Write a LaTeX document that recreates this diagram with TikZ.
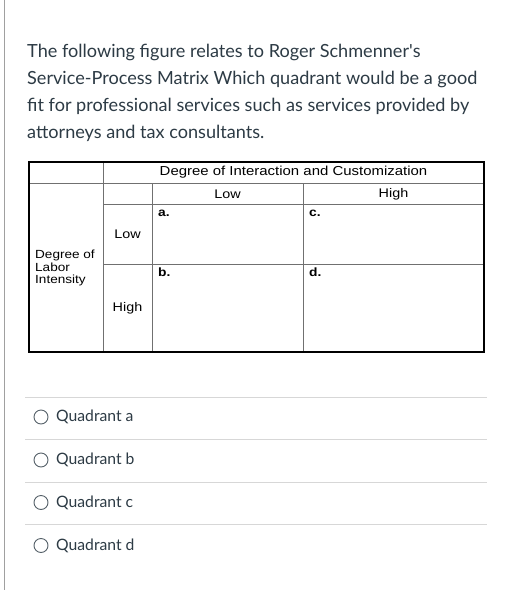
\documentclass[tikz,border=0pt]{standalone}
\usepackage{fontspec}
\setmainfont{Lato}
\newfontfamily\arialf[FakeStretch=1.15]{Liberation Sans}
\definecolor{txt}{HTML}{2D3B45}
\definecolor{sep}{HTML}{D7D7D7}
\definecolor{edge}{HTML}{A0A0A0}
\definecolor{grid}{HTML}{707070}
\begin{document}
\begin{tikzpicture}[x=1pt,y=-1pt,
  qline/.style={anchor=base west,inner sep=0pt,text=txt,font=\fontsize{18.1}{20}\selectfont},
  tbl/.style={inner sep=0pt,font=\arialf\fontsize{12.5}{14}\selectfont},
  tblb/.style={tbl,anchor=base west,font=\arialf\bfseries\fontsize{12}{14}\selectfont},
  opt/.style={anchor=base west,inner sep=0pt,text=txt,font=\fontsize{15.7}{19}\selectfont},
  radio/.style={circle,draw=txt!80,line width=0.9pt,minimum size=14pt,inner sep=0pt},
  sepline/.style={draw=sep,line width=0.8pt},
  gridline/.style={draw=grid,line width=0.7pt}]
\useasboundingbox (0,0) rectangle (508,590);
\fill[white] (0,0) rectangle (508,590);
\draw[edge,line width=1pt] (4.5,0) -- (4.5,590);
% question text
\node[qline] (l1) at (27,57) {The following figure relates to Roger Schmenner\textquotesingle s};
\node[qline] (l2) at (27,84) {Service-Process Matrix Which quadrant would be a good};
\node[qline] (l3) at (27,111) {fit for professional services such as services provided by};
\node[qline] (l4) at (27,138) {attorneys and tax consultants.};
% table grid
\coordinate (tl) at (29,162);
\coordinate (br) at (484,352);
\draw[gridline] (29,183) -- (484,183);
\draw[gridline] (103,204) -- (484,204);
\draw[gridline] (103,264) -- (484,264);
\draw[gridline] (103,162) -- (103,352);
\draw[gridline] (152,183) -- (152,352);
\draw[gridline] (303,183) -- (303,352);
\draw[black,line width=1.6pt] (tl) rectangle (br);
% table texts
\node[tbl,font=\arialf\fontsize{13}{14}\selectfont] (hdr) at (293.5,172.5) {Degree of Interaction and Customization};
\node[tbl] (clow) at (227.5,194) {Low};
\node[tbl] (chigh) at (393.5,194) {High};
\node[tbl] (rlow) at (127.5,234.5) {Low};
\node[tbl] (rhigh) at (127.5,308.5) {High};
\node[tbl,anchor=west,align=left,font=\arialf\fontsize{11.8}{12.5}\selectfont] (dli) at (35,268) {Degree of\\Labor\\Intensity};
\node[tblb] (qa) at (158,216) {a.};
\node[tblb] (qc) at (309,216) {c.};
\node[tblb] (qb) at (158,276) {b.};
\node[tblb] (qd) at (309,276) {d.};
% options
\foreach \y in {397,439,482,524} \draw[sepline] (25,\y) -- (487,\y);
\node[radio] (r1) at (41,417) {};
\node[radio] (r2) at (41,460) {};
\node[radio] (r3) at (41,502.5) {};
\node[radio] (r4) at (41,545.5) {};
\node[opt] (o1) at (56,421.5) {Quadrant a};
\node[opt] (o2) at (56,464.5) {Quadrant b};
\node[opt] (o3) at (56,507) {Quadrant c};
\node[opt] (o4) at (56,550) {Quadrant d};
\end{tikzpicture}
\end{document}
